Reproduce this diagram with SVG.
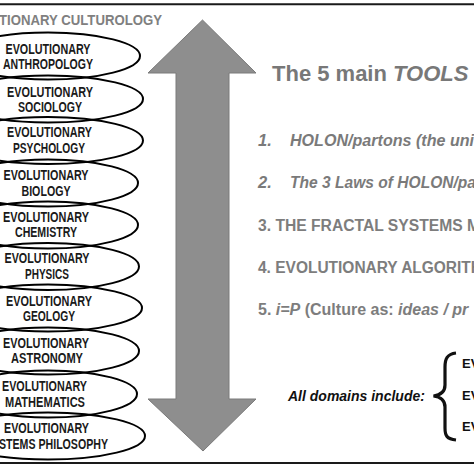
<svg xmlns="http://www.w3.org/2000/svg" width="474" height="474" viewBox="0 0 474 474">
<style>
.bg{fill:#ffffff}
.frame{stroke:#1a1a1a;stroke-width:2;fill:none}
.ell{fill:none;stroke:#000;stroke-width:2}
.et{font-family:"Liberation Sans",Arial,sans-serif;font-weight:bold;font-size:14.5px;fill:#1a1a1a;text-anchor:middle}
.ttl{font-family:"Liberation Sans",Arial,sans-serif;font-weight:bold;font-size:15px;fill:#808080}
.head{font-family:"Liberation Sans",Arial,sans-serif;font-weight:bold;font-size:22px;fill:#787878}
.tool{font-family:"Liberation Sans",Arial,sans-serif;font-weight:bold;font-size:16.5px;fill:#7a7a7a}
.tool2{font-family:"Liberation Sans",Arial,sans-serif;font-weight:bold;font-size:16px;fill:#7d7d7d}
.it{font-style:italic}
.dom{font-family:"Liberation Sans",Arial,sans-serif;font-weight:bold;font-style:italic;font-size:14px;fill:#111}
.ev{font-family:"Liberation Sans",Arial,sans-serif;font-weight:bold;font-size:13px;fill:#111}
</style>
<rect class="bg" x="0" y="0" width="474" height="474"/>
<g id="frame">
<line class="frame" x1="0" y1="4.3" x2="474" y2="4.3"/>
<line class="frame" x1="0" y1="463" x2="474" y2="463"/>
</g>
<text id="title" class="ttl" x="-1" y="25" textLength="163" lengthAdjust="spacingAndGlyphs">TIONARY CULTUROLOGY</text>
<g id="arrow">
<polygon points="202.5,20 256,73 229,73 229,399 256,399 203,451 148,399 176,399 176,73 148,73" fill="#8e8e8e" stroke="#7a7a7a" stroke-width="1"/>
</g>
<g id="n1"><ellipse class="ell" cx="48" cy="56" rx="92" ry="23.5"/>
<text class="et" x="48" y="54" textLength="85" lengthAdjust="spacingAndGlyphs">EVOLUTIONARY</text>
<text class="et" x="48" y="69" textLength="90" lengthAdjust="spacingAndGlyphs">ANTHROPOLOGY</text></g>
<g id="n2"><ellipse class="ell" cx="48" cy="99" rx="95" ry="23.5"/>
<text class="et" x="50" y="97" textLength="86" lengthAdjust="spacingAndGlyphs">EVOLUTIONARY</text>
<text class="et" x="50" y="112" textLength="64" lengthAdjust="spacingAndGlyphs">SOCIOLOGY</text></g>
<g id="n3"><ellipse class="ell" cx="48" cy="140.5" rx="95" ry="23.5"/>
<text class="et" x="49.5" y="137" textLength="85" lengthAdjust="spacingAndGlyphs">EVOLUTIONARY</text>
<text class="et" x="49" y="153" textLength="72" lengthAdjust="spacingAndGlyphs">PSYCHOLOGY</text></g>
<g id="n4"><ellipse class="ell" cx="48" cy="183" rx="90" ry="23.5"/>
<text class="et" x="46" y="180" textLength="85" lengthAdjust="spacingAndGlyphs">EVOLUTIONARY</text>
<text class="et" x="46" y="196" textLength="49" lengthAdjust="spacingAndGlyphs">BIOLOGY</text></g>
<g id="n5"><ellipse class="ell" cx="48" cy="225" rx="90" ry="23.5"/>
<text class="et" x="46" y="222" textLength="86" lengthAdjust="spacingAndGlyphs">EVOLUTIONARY</text>
<text class="et" x="46" y="237" textLength="62" lengthAdjust="spacingAndGlyphs">CHEMISTRY</text></g>
<g id="n6"><ellipse class="ell" cx="48" cy="266.5" rx="91" ry="23.5"/>
<text class="et" x="47" y="263" textLength="85" lengthAdjust="spacingAndGlyphs">EVOLUTIONARY</text>
<text class="et" x="47" y="279" textLength="44" lengthAdjust="spacingAndGlyphs">PHYSICS</text></g>
<g id="n7"><ellipse class="ell" cx="48" cy="308" rx="94" ry="23.5"/>
<text class="et" x="49" y="306" textLength="86" lengthAdjust="spacingAndGlyphs">EVOLUTIONARY</text>
<text class="et" x="49" y="321" textLength="52" lengthAdjust="spacingAndGlyphs">GEOLOGY</text></g>
<g id="n8"><ellipse class="ell" cx="48" cy="351" rx="91" ry="23.5"/>
<text class="et" x="46" y="348" textLength="86" lengthAdjust="spacingAndGlyphs">EVOLUTIONARY</text>
<text class="et" x="47" y="363" textLength="72" lengthAdjust="spacingAndGlyphs">ASTRONOMY</text></g>
<g id="n9"><ellipse class="ell" cx="48" cy="394" rx="89" ry="23.5"/>
<text class="et" x="44.5" y="391" textLength="85" lengthAdjust="spacingAndGlyphs">EVOLUTIONARY</text>
<text class="et" x="45" y="407" textLength="80" lengthAdjust="spacingAndGlyphs">MATHEMATICS</text></g>
<g id="n10"><ellipse class="ell" cx="48" cy="436" rx="97" ry="23.5"/>
<text class="et" x="46.5" y="433" textLength="85" lengthAdjust="spacingAndGlyphs">EVOLUTIONARY</text>
<text class="et" x="-1" y="449" style="text-anchor:start" textLength="109" lengthAdjust="spacingAndGlyphs">STEMS PHILOSOPHY</text></g>
<g id="tools">
<text class="head" x="272" y="81">The 5 main <tspan class="it">TOOLS</tspan></text>
<text class="tool it" x="258" y="146">1.</text>
<text class="tool it" x="290" y="146" textLength="184" lengthAdjust="spacingAndGlyphs">HOLON/partons (the uni</text>
<text class="tool it" x="258" y="188">2.</text>
<text class="tool it" x="290" y="188" textLength="186" lengthAdjust="spacingAndGlyphs">The 3 Laws of HOLON/pa</text>
<text class="tool2" x="258" y="231" textLength="222" lengthAdjust="spacingAndGlyphs">3. THE FRACTAL SYSTEMS M</text>
<text class="tool2" x="258" y="273" textLength="224" lengthAdjust="spacingAndGlyphs">4. EVOLUTIONARY ALGORITH</text>
<text class="tool2" x="258" y="315">5. <tspan class="it">i=P</tspan> (Culture as: <tspan class="it">ideas / pr</tspan></text>
</g>
<g id="domains">
<text class="dom" x="288" y="401">All domains include:</text>
<path d="M456 353 C447 354 445 359 445 367 L445 385 C445 392 441 395 433.5 396 C441 397 445 400 445 407 L445 428 C445 436 447 439 456 440" fill="none" stroke="#111" stroke-width="3.2"/>
<text class="ev" x="462" y="368">EV</text>
<text class="ev" x="462" y="400">EV</text>
<text class="ev" x="462" y="431">EV</text>
</g>
</svg>
